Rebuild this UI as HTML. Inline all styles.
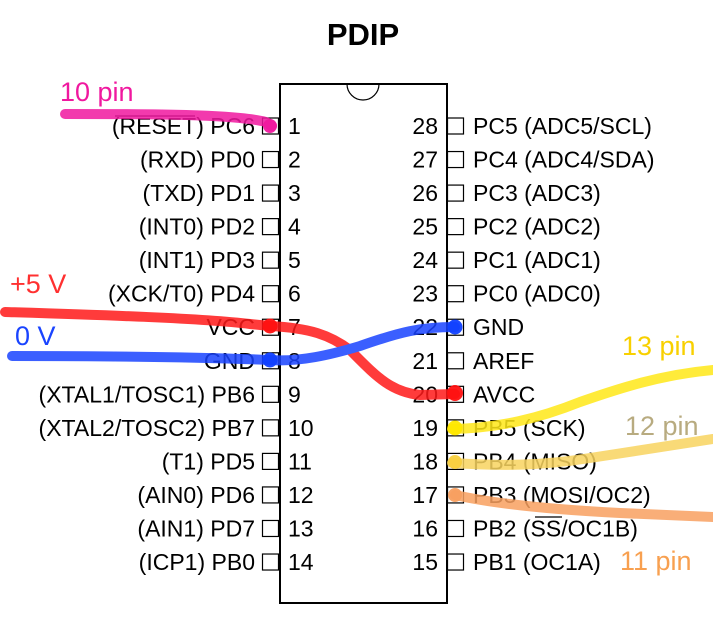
<!DOCTYPE html>
<html><head><meta charset="utf-8"><style>
html,body{margin:0;padding:0;background:#fff}
svg{display:block}
text{font-family:"Liberation Sans",Arial,sans-serif;font-size:23px;fill:#000}
.lb{font-size:27px}
</style></head><body>
<svg width="713" height="624" viewBox="0 0 713 624">
<text x="363" y="45" text-anchor="middle" style="font-size:31px;font-weight:bold">PDIP</text>
<path d="M280 84 H447 V603 H280 Z" fill="none" stroke="#000" stroke-width="2"/>
<path d="M347 84 A16 16 0 0 0 379 84" fill="none" stroke="#000" stroke-width="1.2"/>
<g fill="#fff" stroke="#000" stroke-width="1.2" id="boxes"></g>
<g id="txt"></g>
<g fill="none" stroke-linecap="round" stroke-linejoin="round" stroke-width="10" opacity="0.85">
<path d="M65 114 C130 114 200 114 240 118 S265 125 272 126" stroke="#f0189f"/>
<path d="M5 312 C100 315 200 318 250 324 L270 326 C310 328 330 335 350 350 C375 375 390 392 420 395 L455 394" stroke="#ff1a1a"/>
<path d="M12 356 C100 356 200 357 270 360 C300 362 330 355 360 346 C400 332 420 327 455 327" stroke="#1a44ff"/>
<path d="M452 429 C500 428 540 418 580 402 C620 388 660 375 713 370" stroke="#ffe818"/>
<path d="M452 463 C500 466 540 466 590 458 C640 450 680 444 713 439" stroke="#f8d460"/>
<path d="M455 495 C500 505 560 510 620 513 L713 517" stroke="#f8a060"/>
</g>
<g opacity="0.95">
<circle cx="270" cy="126" r="7" fill="#f0189f"/>
<circle cx="270" cy="326" r="7.5" fill="#ff1010"/>
<circle cx="270" cy="360" r="7.5" fill="#1040ff"/>
<circle cx="455" cy="327" r="7.5" fill="#1040ff"/>
<circle cx="455" cy="393" r="8" fill="#ff1010"/>
<circle cx="455" cy="428" r="7.5" fill="#ffe800"/>
<circle cx="455" cy="462" r="7" fill="#f8d040"/>
<circle cx="455" cy="495" r="7" fill="#f8a060"/>
</g>
<text class="lb" x="60" y="101" style="fill:#f0189f">10 pin</text>
<text class="lb" x="10" y="293" style="fill:#ff3030">+5 V</text>
<text class="lb" x="15" y="345" style="fill:#1a44ff">0 V</text>
<text class="lb" x="622" y="355" style="fill:#f8d000">13 pin</text>
<text class="lb" x="625" y="435" style="fill:#b8ab80">12 pin</text>
<text class="lb" x="620" y="570" style="fill:#f8a050">11 pin</text>
<script>
var L=["(RESET) PC6","(RXD) PD0","(TXD) PD1","(INT0) PD2","(INT1) PD3","(XCK/T0) PD4","VCC","GND","(XTAL1/TOSC1) PB6","(XTAL2/TOSC2) PB7","(T1) PD5","(AIN0) PD6","(AIN1) PD7","(ICP1) PB0"];
var R=["PC5 (ADC5/SCL)","PC4 (ADC4/SDA)","PC3 (ADC3)","PC2 (ADC2)","PC1 (ADC1)","PC0 (ADC0)","GND","AREF","AVCC","PB5 (SCK)","PB4 (MISO)","PB3 (MOSI/OC2)","PB2 (SS/OC1B)","PB1 (OC1A)"];
var ns="http://www.w3.org/2000/svg",b=document.getElementById("boxes"),t=document.getElementById("txt");
function el(n,a,p,s){var e=document.createElementNS(ns,n);for(var k in a)e.setAttribute(k,a[k]);if(s!=null)e.textContent=s;p.appendChild(e);return e;}
for(var i=0;i<14;i++){var y=126+i*33.54;
el("rect",{x:262.5,y:y-8,width:16,height:16},b);
el("rect",{x:447.5,y:y-8,width:16,height:16},b);
el("text",{x:255,y:y+8,"text-anchor":"end"},t,L[i]);
el("text",{x:288,y:y+8},t,String(i+1));
el("text",{x:438,y:y+8,"text-anchor":"end"},t,String(28-i));
el("text",{x:473,y:y+8},t,R[i]);}
el("line",{x1:115,y1:116,x2:195,y2:116,stroke:"#000","stroke-width":1.2},t);
el("line",{x1:535,y1:517,x2:562,y2:517,stroke:"#000","stroke-width":1.2},t);
</script>
</svg>
</body></html>
